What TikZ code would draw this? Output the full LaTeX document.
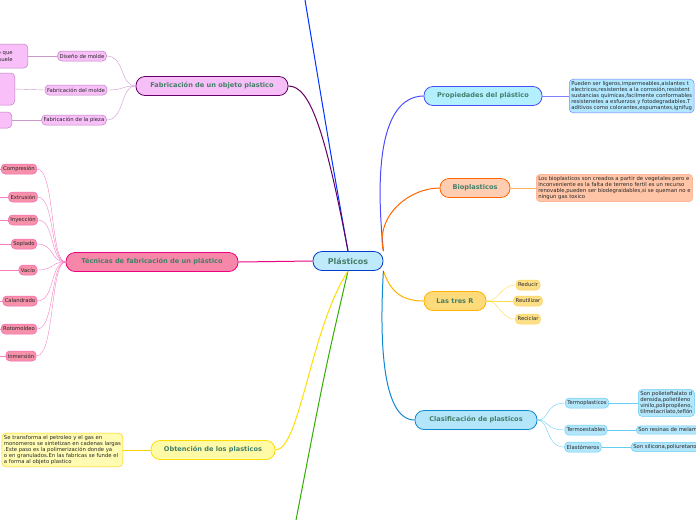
\documentclass[tikz,border=0pt]{standalone}
\usepackage{fontspec}
\setmainfont{DejaVu Sans}
\begin{document}
\begin{tikzpicture}[x=1pt,y=-1pt,
 base/.style={rounded corners=4pt,font=\fontsize{5.3}{6.1}\selectfont,inner sep=2pt,line width=0.5pt,text=black!85},
 main/.style={rounded corners=9pt,font=\bfseries\fontsize{6.6}{8}\selectfont,text=black!70!cyan!60!green,minimum height=19pt,line width=0.8pt},
 sub/.style={base,minimum height=10pt},
 txt/.style={base,align=left,anchor=west}]
\useasboundingbox (0,0) rectangle (696,520);
\begin{scope}
\clip (0,0) rectangle (696,520);
\colorlet{cB}{blue!70!cyan!80!black}
\node[main,draw=cB,fill=cyan!25,minimum width=70pt,font=\bfseries\fontsize{8}{9}\selectfont] (P) at (348,261) {Plásticos};
\coordinate (top) at (305,0); \coordinate (bot) at (296,520);
\draw[blue!80!cyan,line width=1pt] (P.north) .. controls (330,150) .. (top);
\draw[green!60!black!80!yellow,line width=1pt] (P.south) .. controls (325,370) .. (bot);
% Propiedades
\node[main,draw=blue!70,fill=blue!20!cyan!30,minimum width=118pt] (pr) at (483,96) {Propiedades del plástico};
\node[txt,draw=blue!50,fill=blue!30!cyan!30] (prt) at (569,96) {Pueden ser ligeros,impermeables,aislantes t\\electricos,resistentes a la corrosión,resistent\\sustancias quimicas,facilmente conformables\\resistenetes a esfuerzos y fotodegradables.T\\aditivos como colorantes,espumantes,ignifug};
\draw[blue!70,line width=1pt] (P.north east) .. controls (370,120) and (400,96) .. (pr.west);
\draw[blue!50] (pr.east) -- (prt.west);
% Bio
\node[main,draw=orange!80!red,fill=red!30!orange!30,minimum width=70pt] (bi) at (475,188) {Bioplasticos};
\node[txt,draw=red!40!orange!50,fill=red!30!orange!35] (bit) at (536,188) {Los bioplasticos son creados a partir de vegetales pero e\\inconveniente es la falta de terreno fertil es un recurso\\renovable,pueden ser biodegraidables,si se queman no e\\ningun gas toxico};
\draw[orange!80!red,line width=1pt] (P.north east) .. controls (375,215) and (410,188) .. (bi.west);
\draw[orange!60] (bi.east) -- (bit.west);
% Tres R
\node[main,draw=orange!60!yellow,fill=yellow!50!orange!50,minimum width=62pt] (tr) at (455,301) {Las tres R};
\foreach \n/\t/\y in {r1/Reducir/285,r2/Reutilizar/301,r3/Reciclar/319}{
 \node[sub,draw=orange!50!yellow!70,fill=yellow!50!orange!45] (\n) at (528,\y) {\t};
 \draw[orange!40!yellow!70] (tr.east) .. controls (500,301) and (500,\y) .. (\n.west);}
\draw[orange!60!yellow,line width=1pt] (P.south east) .. controls (390,290) and (400,301) .. (tr.west);
% Clasificacion
\node[main,draw=cyan!70!blue,fill=cyan!30,minimum width=122pt] (cl) at (476,420) {Clasificación de plasticos};
\draw[cyan!70!blue,line width=1pt] (P.south east) .. controls (380,330) and (380,420) .. (cl.west);
\node[sub,draw=cyan!60,fill=cyan!30] (c1) at (587,403) {Termoplasticos};
\node[sub,draw=cyan!60,fill=cyan!30] (c2) at (586,430) {Termoestables};
\node[sub,draw=cyan!60,fill=cyan!30] (c3) at (583,447) {Elastómeros};
\node[txt,draw=cyan!60,fill=cyan!30] (c1t) at (638,403) {Son polieteftalato d\\densida,polietileno\\vinilo,polipropileno,\\tilmetacrilato,teflón};
\node[txt,draw=cyan!60,fill=cyan!30] (c2t) at (636,430) {Son resinas de melamina};
\node[txt,draw=cyan!60,fill=cyan!30] (c3t) at (631,447) {Son silicona,poliuretano};
\foreach \c/\t/\y in {c1/c1t/403,c2/c2t/430,c3/c3t/447}{
 \draw[cyan!60] (cl.east) .. controls (550,420) and (545,\y) .. (\c.west);
 \draw[cyan!60] (\c.east) -- (\t.west);}
% Obtencion
\node[main,draw=yellow!80!orange,fill=yellow!35,minimum width=124pt] (ob) at (213,450) {Obtención de los plasticos};
\node[txt,draw=yellow!70!orange,fill=yellow!30,anchor=east] (obt) at (123,450) {Se transforma el petroleo y el gas en\\monomeros se sintetizan en cadenas largas\\.Este paso es la polimerización donde ya\\o en granulados.En las fabricas se funde el\\a forma al objeto plastico};
\draw[yellow!80!orange,line width=1pt] (P.south) .. controls (310,330) and (300,450) .. (ob.east);
\draw[yellow!70!orange] (ob.west) -- (obt.east);
% Tecnicas
\node[main,draw=magenta!90!red,fill=magenta!30!pink,minimum width=172pt] (te) at (152,262) {Técnicas de fabricación de un plástico};
\draw[magenta!90!red,line width=1pt] (P.west) -- (te.east);
\foreach \n/\t/\x/\y in {t1/Compresión/19/169,t2/Extrusión/23/197,t3/Inyección/23/220,t4/Soplado/24/244,t5/Vacío/28/270,t6/Calandrado/20/301,t7/Rotomoldeo/19/329,t8/Inmersión/21/356}{
 \node[sub,draw=magenta!60,fill=magenta!25!pink] (\n) at (\x,\y) {\t};
 \coordinate (\n l) at (0,\y);
 \draw[magenta!50] (te.west) .. controls (50,262) and (55,\y) .. (\n.east);
 \draw[magenta!50] (\n.west) -- (\n l);}
% Fabricacion
\node[main,draw=violet!80!black,fill=violet!25!magenta!25,minimum width=152pt] (fa) at (212,86) {Fabricación de un objeto plastico};
\draw[violet!80!black,line width=1pt] (P.north) .. controls (325,130) and (310,86) .. (fa.east);
\node[sub,draw=violet!50,fill=violet!20!magenta!25] (f1) at (82,56) {Diseño de molde};
\node[sub,draw=violet!50,fill=violet!20!magenta!25] (f2) at (76,90) {Fabricación del molde};
\node[sub,draw=violet!50,fill=violet!20!magenta!25] (f3) at (74,120) {Fabricación de la pieza};
\node[txt,draw=violet!50,fill=violet!20!magenta!25,anchor=east,minimum height=24pt,minimum width=50pt,align=right] (f1t) at (28,56) {nio que\\ suele};
\node[txt,draw=violet!50,fill=violet!20!magenta!25,anchor=east,minimum height=32pt,minimum width=30pt] (f2t) at (15,89) {};
\node[txt,draw=violet!50,fill=violet!20!magenta!25,anchor=east,minimum height=16pt,minimum width=30pt,align=right] (f3t) at (12,120) {e};
\foreach \f/\y in {f1/56,f2/90,f3/120}{
 \draw[violet!40] (fa.west) .. controls (120,86) and (125,\y) .. (\f.east);
 \draw[violet!40] (\f.west) -- (\f t.east);}
\end{scope}
\end{tikzpicture}
\end{document}
